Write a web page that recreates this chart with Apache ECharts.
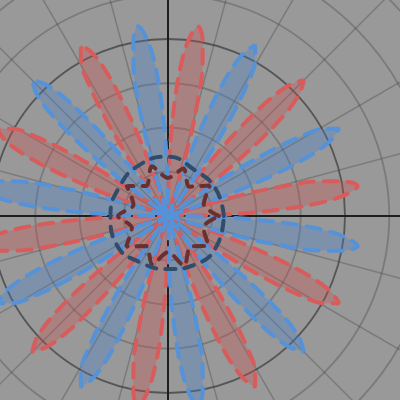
<!DOCTYPE html>
<html>
<head>
<meta charset="utf-8">
<script src="https://cdn.jsdelivr.net/npm/echarts@6/dist/echarts.min.js"></script>
<style>
html,body{margin:0;padding:0;background:#999999;}
#chart{width:400px;height:400px;}
</style>
</head>
<body>
<div id="chart"></div>
<script>
// ---- data ----
const redPetalAngles  = [9, 45, 81, 117, 153, 189, 225, 261, 297, 333];
const bluePetalAngles = [27, 63, 99, 135, 171, 207, 243, 279, 315, 351];
const petalLength = 4.34;
// petal outline: angular offset (deg) from petal axis and radius as share of petal length
const petalOffsets = [-9, -8, -7, -5.5, -4, -2.2, 0, 2.2, 4, 5.5, 7, 8];
const petalShares  = [0, 0.2, 0.4, 0.62, 0.8, 0.93, 1, 0.93, 0.8, 0.62, 0.4, 0.2];

const darkRedRingAngles = [0, 18, 36, 54, 72, 90, 108, 126, 144, 162, 180, 198, 216, 234, 252, 270, 288, 306, 324, 342, 360];
const darkRedRingRadii  = [1.15, 0.85, 1.17, 0.82, 1.13, 0.86, 1.18, 0.84, 1.15, 0.82, 1.13, 0.86, 1.17, 0.84, 1.15, 0.82, 1.18, 0.86, 1.13, 0.84, 1.15];
const darkBlueRingAngles = [0, 30, 60, 90, 120, 150, 180, 210, 240, 270, 300, 330, 360];
const darkBlueRingRadii  = [1.26, 1.24, 1.2, 1.34, 1.32, 1.28, 1.3, 1.33, 1.22, 1.2, 1.26, 1.29, 1.26];

const radiusMax = 8;
const radiusStep = 1;
const angleStep = 15;

function petalData(angles) {
  const out = [];
  angles.forEach(function (c) {
    for (let i = 0; i < petalOffsets.length; i++) {
      out.push([petalLength * petalShares[i], c + petalOffsets[i]]);
    }
  });
  out.push([0, angles[angles.length - 1] + 9]);
  return out;
}
function ringData(angles, radii) {
  return angles.map(function (a, i) { return [radii[i], a]; });
}

const chart = echarts.init(document.getElementById('chart'), null, {renderer: 'canvas'});
const gridColor = 'rgba(60,60,60,0.33)';
const ringColors = [];
for (let i = 0; i <= radiusMax; i++) ringColors.push(i === 4 ? 'rgba(40,40,40,0.6)' : gridColor);

const center = [168, 216];
const R = 354;
const hiddenAngle = function (idx, start) {
  return {polarIndex: idx, type: 'value', min: 0, max: 360, startAngle: start, clockwise: false,
    axisLine: {show: false}, axisTick: {show: false}, axisLabel: {show: false}, splitLine: {show: false}};
};
const crossRadius = function (idx) {
  return {polarIndex: idx, type: 'value', min: 0, max: radiusMax,
    axisLine: {show: true, lineStyle: {color: '#1e1e1e', width: 2}},
    axisTick: {show: false}, axisLabel: {show: false}, splitLine: {show: false}};
};

chart.setOption({
  backgroundColor: '#999999',
  animation: false,
  polar: [
    {center: center, radius: R},
    {center: center, radius: R},
    {center: center, radius: R},
    {center: center, radius: R}
  ],
  angleAxis: [
    {polarIndex: 0, type: 'value', min: 0, max: 360, interval: angleStep, startAngle: 0, clockwise: false,
      axisLine: {show: false}, axisTick: {show: false}, axisLabel: {show: false},
      splitLine: {show: true, lineStyle: {color: gridColor, width: 1.5}}},
    hiddenAngle(1, 90), hiddenAngle(2, 180), hiddenAngle(3, 270)
  ],
  radiusAxis: [
    {polarIndex: 0, type: 'value', min: 0, max: radiusMax, interval: radiusStep,
      axisLine: {show: true, lineStyle: {color: '#1e1e1e', width: 2}},
      axisTick: {show: false}, axisLabel: {show: false},
      splitLine: {show: true, lineStyle: {color: ringColors, width: 1.8}}},
    crossRadius(1), crossRadius(2), crossRadius(3)
  ],
  series: [
    {type: 'line', coordinateSystem: 'polar', polarIndex: 0, data: petalData(redPetalAngles),
      showSymbol: false, smooth: 0.35, silent: true,
      lineStyle: {color: '#d85c5c', width: 4, type: [14, 10], cap: 'round'},
      areaStyle: {color: 'rgba(205,80,80,0.45)'}, z: 2},
    {type: 'line', coordinateSystem: 'polar', polarIndex: 0, data: petalData(bluePetalAngles),
      showSymbol: false, smooth: 0.35, silent: true,
      lineStyle: {color: '#5592d8', width: 4, type: [14, 10], cap: 'round'},
      areaStyle: {color: 'rgba(70,130,210,0.45)'}, z: 3},
    {type: 'line', coordinateSystem: 'polar', polarIndex: 0, data: ringData(darkRedRingAngles, darkRedRingRadii),
      showSymbol: false, smooth: 0.3, silent: true,
      lineStyle: {color: '#6a3030', width: 4, type: [10, 9], cap: 'round'}, z: 4},
    {type: 'line', coordinateSystem: 'polar', polarIndex: 0, data: ringData(darkBlueRingAngles, darkBlueRingRadii),
      showSymbol: false, smooth: 0.5, silent: true,
      lineStyle: {color: '#2f4c6a', width: 4, type: [10, 9], cap: 'round'}, z: 4}
  ]
});
</script>
</body>
</html>
